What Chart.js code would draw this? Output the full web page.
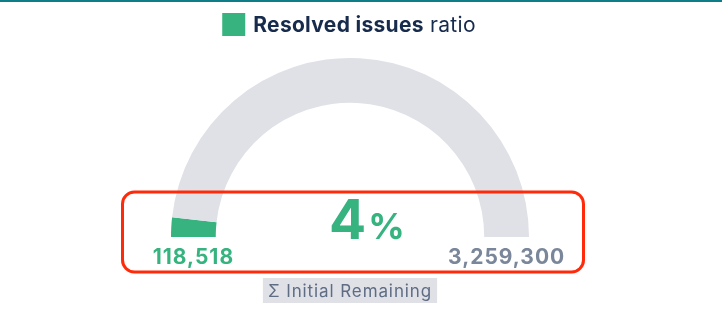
<!DOCTYPE html>
<html>
<head>
<meta charset="utf-8">
<script src="https://cdn.jsdelivr.net/npm/chart.js@4.4.1/dist/chart.umd.min.js"></script>
<style>
  html, body { margin: 0; padding: 0; background: #fff; }
  #wrap { width: 722px; height: 322px; position: relative; }
</style>
</head>
<body>
<div id="wrap"><canvas id="gauge" width="722" height="322"></canvas></div>
<script>
// gauge data
const labels = ["Resolved issues", "Initial Remaining"];
const values = [118518, 3259300];
const colors = ["#36b37e", "#dfe1e6"];
const legendBold = "Resolved issues";
const legendRest = " ratio";
const footerText = "\u03a3 Initial Remaining";

const FONT = "Inter, 'Noto Sans', sans-serif";

function fmt(n) {
  return n.toLocaleString("en-US");
}

// draws legend, center value, end labels and the red box
const gaugeText = {
  id: "gaugeText",
  afterDraw(chart) {
    const ctx = chart.ctx;
    const arc = chart.getDatasetMeta(0).data[0];
    const cx = arc.x, cy = arc.y;
    const outer = arc.outerRadius, inner = arc.innerRadius;
    const mid = (outer + inner) / 2;
    ctx.save();

    // teal strip on top
    ctx.fillStyle = "#0f7d87";
    ctx.fillRect(0, 0, chart.width, 2);

    // legend
    ctx.textBaseline = "alphabetic";
    ctx.textAlign = "left";
    ctx.letterSpacing = "0.3px";
    ctx.font = "bold 21px " + FONT;
    const wb = ctx.measureText(legendBold).width;
    ctx.font = "21px " + FONT;
    const wr = ctx.measureText(legendRest).width;
    const total = 23 + 8 + wb + wr;
    let lx = 349 - total / 2;
    ctx.fillStyle = colors[0];
    ctx.fillRect(lx, 13, 23, 23);
    lx += 31;
    ctx.fillStyle = "#172b4d";
    ctx.font = "bold 21px " + FONT;
    ctx.fillText(legendBold, lx, 32);
    ctx.font = "21px " + FONT;
    ctx.fillText(legendRest, lx + wb, 32);

    // percent in the middle
    ctx.letterSpacing = "0px";
    const pct = Math.round(values[0] / (values[0] + values[1]) * 100);
    ctx.font = "bold 55px " + FONT;
    const w4 = ctx.measureText(String(pct)).width;
    ctx.font = "bold 36px " + FONT;
    const wp = ctx.measureText("%").width;
    let px = cx + 17 - (w4 + wp + 2) / 2;
    ctx.fillStyle = colors[0];
    ctx.font = "bold 55px " + FONT;
    ctx.fillText(String(pct), px, 239);
    ctx.font = "bold 36px " + FONT;
    ctx.fillText("%", px + w4 + 2, 239);

    // end labels
    ctx.textAlign = "center";
    ctx.letterSpacing = "1px";
    ctx.font = "bold 21px " + FONT;
    ctx.fillStyle = colors[0];
    ctx.fillText(fmt(values[0]), cx - mid, 264);
    ctx.fillStyle = "#7a869a";
    ctx.fillText(fmt(values[1]), cx + mid, 264);

    // footer label
    ctx.letterSpacing = "0.9px";
    ctx.font = "17px " + FONT;
    const wf = ctx.measureText(footerText).width;
    ctx.fillStyle = "#dfe1e6";
    ctx.fillRect(cx - wf / 2 - 5, 278, wf + 10, 25);
    ctx.fillStyle = "#5e6c84";
    ctx.fillText(footerText, cx, 297);

    // red highlight box
    ctx.strokeStyle = "#ff2a0a";
    ctx.lineWidth = 3;
    ctx.beginPath();
    ctx.roundRect(122.5, 192, 461, 80, 12);
    ctx.stroke();

    ctx.restore();
  }
};

new Chart(document.getElementById("gauge"), {
  type: "doughnut",
  data: {
    labels: labels,
    datasets: [{
      data: values,
      backgroundColor: colors,
      borderWidth: 0,
      hoverOffset: 0
    }]
  },
  options: {
    responsive: false,
    animation: false,
    rotation: -90,
    circumference: 180,
    cutout: "75%",
    layout: { padding: { left: 171, right: 193, top: 58, bottom: 85 } },
    plugins: {
      legend: { display: false },
      tooltip: { enabled: false }
    }
  },
  plugins: [gaugeText]
});
</script>
</body>
</html>
